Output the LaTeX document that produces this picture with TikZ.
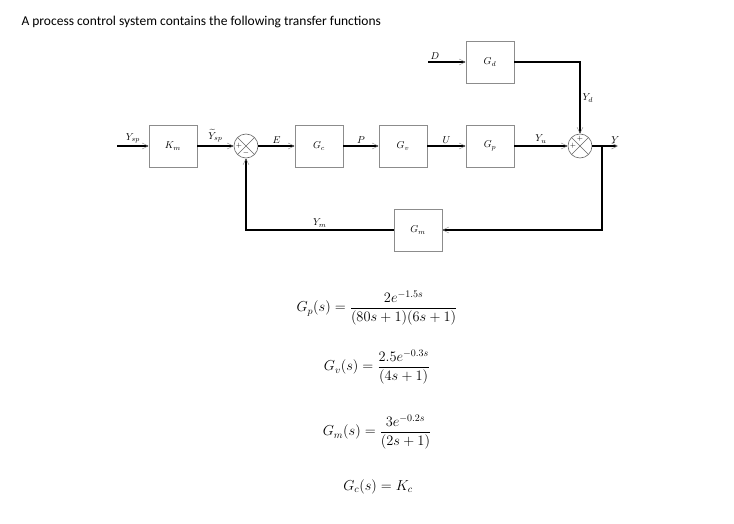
\documentclass[tikz,border=0pt]{standalone}
\usepackage{amsmath}
\usepackage{fontspec}
\newfontfamily\titlefont{Carlito}
\usetikzlibrary{arrows.meta,calc}
\begin{document}
\begin{tikzpicture}[x=1pt,y=-1pt,
  blk/.style={draw=black!45,line width=0.6pt,minimum width=48pt,minimum height=42pt,inner sep=0pt,font=\normalsize},
  sumc/.style={circle,draw=black!60,line width=0.6pt,minimum size=24pt,inner sep=0pt,path picture={\draw[black!60,line width=0.6pt] (path picture bounding box.north west)--(path picture bounding box.south east) (path picture bounding box.north east)--(path picture bounding box.south west);}},
  sig/.style={line width=1.3pt,-{Straight Barb[length=6pt,width=6pt,line width=0.5pt,color=black!45]}},
  lbl/.style={font=\normalsize,inner sep=2pt},
  sg/.style={font=\scriptsize,inner sep=0pt}]
\useasboundingbox (0,0) rectangle (734,524);
\node[anchor=west,font=\titlefont\fontsize{13.5}{15}\selectfont] (title) at (18,22) {A process control system contains the following transfer functions};
\node[blk] (km) at (173,146) {$K_m$};
\node[sumc] (s1) at (246,146) {};
\node[blk] (gc) at (319,146) {$G_c$};
\node[blk] (gv) at (403,146) {$G_v$};
\node[blk] (gp) at (490,146) {$G_p$};
\node[blk] (gd) at (490,62) {$G_d$};
\node[sumc] (s2) at (580,146) {};
\node[blk] (gm) at (418,230) {$G_m$};
\coordinate (in) at (117,146);
\coordinate (d) at (428,62);
\coordinate (out) at (618,146);
\coordinate (br) at (602,146);
\node[sg] at ($(s1)+(-7,0)$) {$+$};
\node[sg] at ($(s1)+(0,7)$) {$-$};
\node[sg] at ($(s2)+(0,-7)$) {$+$};
\node[sg] at ($(s2)+(-7,0)$) {$+$};
\draw[sig] (in) -- node[lbl,above] {$Y_{sp}$} (km);
\draw[sig] (km) -- node[lbl,above,yshift=1pt] {$\widetilde{Y}_{sp}$} (s1);
\draw[sig] (s1) -- node[lbl,above] {$E$} (gc);
\draw[sig] (gc) -- node[lbl,above] {$P$} (gv);
\draw[sig] (gv) -- node[lbl,above] {$U$} (gp);
\draw[sig] (gp) -- node[lbl,above] {$Y_u$} (s2);
\draw[sig] (s2) -- (out) node[lbl,above left,xshift=4pt] {$Y$};
\draw[sig] (d) node[lbl,above right] {$D$} -- (gd);
\draw[sig] (gd.east) -| node[lbl,right,pos=0.75] {$Y_d$} (s2);
\draw[sig] (br) |- (gm);
\draw[sig] (gm) -| node[lbl,above,pos=0.25] {$Y_m$} (s1);
\begin{scope}[font=\fontsize{14}{17}\selectfont]
\node (eqp) at (377,308) {$G_p(s)=\dfrac{2e^{-1.5s}}{(80s+1)(6s+1)}$};
\node (eqv) at (377,367) {$G_v(s)=\dfrac{2.5e^{-0.3s}}{(4s+1)}$};
\node (eqm) at (377,432) {$G_m(s)=\dfrac{3e^{-0.2s}}{(2s+1)}$};
\node (eqc) at (378,487) {$G_c(s)=K_c$};
\end{scope}
\end{tikzpicture}
\end{document}
